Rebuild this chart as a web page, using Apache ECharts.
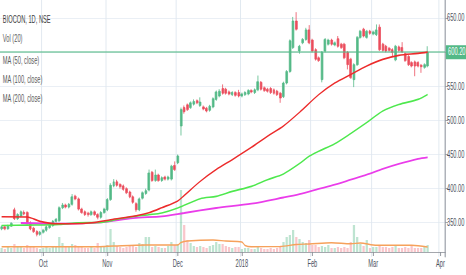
<!DOCTYPE html>
<html><head><meta charset="utf-8">
<script src="https://cdn.jsdelivr.net/npm/echarts@6/dist/echarts.min.js"></script>
<style>
html,body{margin:0;padding:0;background:#fff;overflow:hidden;width:466px;height:275px;}
#wrap{width:466px;height:275px;overflow:hidden;position:relative;}
#c{position:absolute;left:0;top:0;height:275px;transform-origin:0 0;}
</style></head><body><div id="wrap"><div id="c"></div></div>
<script>
// ---- data ----
const startDate = '2017-09-13';
const holidays = ['2017-10-02','2017-10-20','2017-12-25','2018-01-26','2018-02-13','2018-03-02'];
const slotCount = 139;
const monthLabels = {'10':'Oct','11':'Nov','12':'Dec','01':'2018','02':'Feb','03':'Mar','04':'Apr'};
const priceTicks = [350, 400, 450, 500, 550, 600, 650];
const lastPrice = 600.20;

const opens = [341,344,341,345,369,356,360,365,365,350,342,337,333,336,339,343,346,352,353,372,376,373,377,389,385,370,366,364,362,366,362,358,365,369,384,404,410,406,404,400,395,388,378,369,386,393,398,424,412,420,412,417,414,414,434,438,492,519,523,519,524,529,522,520,518,515,520,531,536,547,546,542,538,541,541,536,538,539,544,541,545,556,548,546,547,545,543,540,535,555,572,607,646,602,614,619,633,618,604,592,560,602,612,618,611,620,612,612,600,590,560,582,622,634,622,631,627,626,637,612,609,606,604,589,608,607,598,594,585,586,585,581,578,580];
const closes = [344,341,345,349,356,362,366,363,349,341,337,333,336,339,344,346,352,355,372,376,373,377,388,385,370,365,362,362,366,362,358,365,370,384,405,410,405,403,399,394,388,380,369,385,394,397,423,412,420,412,416,414,417,433,428,448,516,513,516,526,528,526,527,517,514,521,532,542,543,540,540,539,541,537,536,539,541,544,542,545,557,546,544,543,541,540,538,533,555,572,617,646,634,609,619,633,614,602,590,588,600,619,618,612,614,609,607,592,582,563,582,622,631,624,631,628,630,633,604,603,602,603,600,609,603,601,588,582,580,580,580,579,582,600.2];
const lows = [339,339,340,344,354,354,358,361,347,339,335,330,331,334,337,341,344,350,351,370,371,371,375,383,368,363,360,359,360,360,355,356,363,367,382,402,403,400,397,392,386,378,366,367,384,391,396,410,410,410,410,412,412,412,426,436,478,510,514,517,522,524,520,515,512,513,518,529,534,538,538,537,536,535,534,534,536,537,540,539,543,544,542,541,539,538,536,526,533,553,570,605,632,598,612,617,612,600,588,586,556,600,610,610,609,607,605,590,575,561,549,580,620,622,620,626,625,624,602,601,600,601,594,587,601,599,586,580,578,565,578,570,576,578];
const highs = [346,346,347,351,372,364,368,368,367,352,344,339,338,341,346,348,354,357,374,379,378,379,392,391,387,372,368,366,368,368,364,367,372,386,408,414,413,408,406,402,397,390,380,387,396,400,428,426,428,422,418,419,419,435,440,450,519,522,525,528,531,531,534,522,520,523,534,544,546,553,548,544,543,543,545,541,543,546,546,547,566,558,550,548,549,547,545,542,557,574,619,652,659,611,621,636,640,620,606,594,602,621,620,620,616,624,614,614,602,592,584,624,633,636,633,633,632,641,641,614,611,608,606,611,610,615,600,596,587,588,587,583,584,609];
const volumes = [0.8,0.6,1.0,0.8,1.6,1.2,1.0,0.8,1.4,1.2,1.0,0.8,0.6,0.8,1.0,0.8,1.2,1.0,3.0,1.8,1.2,1.0,1.6,1.4,1.2,1.0,0.8,0.8,1.0,0.8,1.8,1.2,1.0,1.4,4.6,2.0,1.2,1.0,0.8,1.0,1.2,1.4,1.0,1.8,1.6,3.0,3.0,1.0,1.2,1.0,0.8,0.8,1.2,2.0,1.4,1.6,12.4,5.4,2.4,1.8,1.2,1.0,1.2,1.0,0.8,1.2,1.4,2.0,1.6,1.6,1.2,1.0,0.8,1.0,1.0,0.6,0.8,0.8,0.6,0.6,1.0,0.8,0.6,0.6,0.8,0.6,0.8,1.2,2.0,3.0,3.4,4.4,3.0,2.6,2.0,1.8,2.4,1.4,1.4,1.0,1.2,1.0,1.4,0.8,0.8,1.0,0.8,1.0,0.8,2.0,5.4,3.0,1.6,1.2,2.4,0.8,1.0,1.0,1.4,1.0,1.0,0.8,1.0,1.4,0.8,0.8,1.0,0.8,1.2,0.8,0.8,0.8,1.0,1.4];
// moving averages at sample bars: [barIndex, value]
const ma50 = [[0,358.8],[8,358.5],[12,352],[17,348.5],[22,348.5],[29,350.4],[34,354.4],[42,360.3],[46,364.7],[50,372],[55,382],[57,390],[62,410.7],[67,428],[72,442.6],[78,460.7],[83,477],[88,492],[93,512],[99,538],[104,555],[109,567.6],[114,580],[119,589.7],[124,595.6],[130,598.5],[133,600.4]];
const ma100 = [[0,346],[8,346.5],[18,347.5],[24,350],[31,350.4],[37,355.9],[43,360.3],[46,361.8],[50,364.3],[55,371.6],[62,385.3],[67,388.7],[72,396],[78,403.4],[83,413.2],[88,421.6],[93,436.8],[96,447.5],[99,454.9],[104,466],[109,481],[114,497],[119,514],[124,523.5],[130,531],[133,538.2]];
const ma200 = [[6,349.6],[18,348.5],[31,350.4],[41,356.9],[50,359.3],[57,364.3],[67,371.6],[78,377.9],[88,387],[93,392],[99,399.6],[104,405.9],[109,413.2],[114,420.6],[119,429],[124,436.3],[130,443.7],[133,446]];
const volMa20 = [[0,1.06],[30,1.06],[35,1.2],[45,1.4],[55,1.4],[56,1.9],[58,2.2],[66,2.4],[70,2.2],[75,2.0],[76,1.3],[78,1.06],[87,1.1],[92,1.5],[96,1.6],[103,1.86],[109,1.66],[112,1.8],[116,1.4],[120,1.34],[128,1.34],[133,1.0]];

// ---- categories (trading days) ----
const dates = [];
(function(){
  let d = new Date(startDate + 'T00:00:00Z');
  while (dates.length < slotCount) {
    const s = d.toISOString().slice(0,10);
    const wd = d.getUTCDay();
    if (wd !== 0 && wd !== 6 && holidays.indexOf(s) < 0) dates.push(s);
    d = new Date(d.getTime() + 86400000);
  }
})();
const isMonthStart = (i) => i > 0 && dates[i].slice(5,7) !== dates[i-1].slice(5,7);

const UP = '#53b987', DOWN = '#eb4d5c';
const candleData = opens.map((o, i) => [o, closes[i], lows[i], highs[i]]);
const volData = volumes.map((v, i) => ({value: v, itemStyle: {color: closes[i] >= opens[i] ? 'rgba(83,185,135,0.38)' : 'rgba(235,77,92,0.32)'}}));

// ---- layout (page is compressed horizontally like the reference) ----
const SX = 0.57;
const el = document.getElementById('c');
const W = 466 / SX;
el.style.width = W + 'px';
el.style.transform = 'scaleX(' + SX + ')';
const rightGap = 21 / SX;
const FONT = 'Liberation Sans';

const chart = echarts.init(el, null, {renderer: 'svg'});
chart.setOption({
  animation: false,
  backgroundColor: '#ffffff',
  grid: [
    {left: 0, right: rightGap, top: 0, bottom: 18.2},
    {left: 0, right: rightGap, top: 182, bottom: 23}
  ],
  xAxis: [
    {type: 'category', gridIndex: 0, data: dates, boundaryGap: true,
     axisLine: {show: false}, axisTick: {show: false}, axisLabel: {show: false},
     splitLine: {show: true, interval: (i) => isMonthStart(i), lineStyle: {color: '#dfe7ef', width: 1.6}}},
    {type: 'category', gridIndex: 1, data: dates, boundaryGap: true,
     axisLine: {show: true, lineStyle: {color: '#8a8e96', width: 1}},
     axisTick: {show: true, alignWithLabel: true, interval: (i) => isMonthStart(i), length: 4, lineStyle: {color: '#8a8e96', width: 1.6}},
     axisLabel: {show: true, interval: (i) => isMonthStart(i), margin: 7, color: '#4c525e', fontSize: 10, fontFamily: FONT,
       formatter: (v) => monthLabels[v.slice(5,7)]},
     splitLine: {show: false}}
  ],
  yAxis: [
    {type: 'value', gridIndex: 0, position: 'right', min: 300, max: 676.86, interval: 50, scale: false,
     axisLine: {show: true, lineStyle: {color: '#8a8e96', width: 1.6}},
     axisTick: {show: true, length: 5, lineStyle: {color: '#8a8e96', width: 1}},
     axisLabel: {show: true, color: '#4c525e', fontSize: 10, fontFamily: FONT, margin: 3,
       showMinLabel: false, showMaxLabel: false,
       formatter: (v) => priceTicks.indexOf(v) >= 0 ? v.toFixed(2) : ''},
     splitLine: {show: true, showMinLine: false, showMaxLine: false, lineStyle: {color: '#e4ebf2', width: 1}}},
    {type: 'value', gridIndex: 1, min: 0, max: 14, show: false, splitLine: {show: false}}
  ],
  series: [
    {type: 'bar', xAxisIndex: 1, yAxisIndex: 1, data: volData, barWidth: '70%', z: 1},
    {type: 'line', xAxisIndex: 1, yAxisIndex: 1, data: volMa20, symbol: 'none', smooth: 0.3, connectNulls: true,
     lineStyle: {color: '#f6a15b', width: 1.4}, z: 2},
    {type: 'candlestick', xAxisIndex: 0, yAxisIndex: 0, data: candleData, barWidth: '62%',
     itemStyle: {color: UP, color0: DOWN, borderColor: UP, borderColor0: DOWN, borderWidth: 1}, z: 3,
     markLine: {silent: true, symbol: ['none', 'none'], animation: false,
       lineStyle: {color: 'rgba(83,185,135,0.55)', width: 2, type: 'solid'},
       label: {show: true, position: 'end', distance: 1, formatter: lastPrice.toFixed(2), color: '#ffffff',
         backgroundColor: UP, fontSize: 10, fontFamily: FONT, padding: [2, 4, 2, 4]},
       data: [{yAxis: lastPrice}]}},
    {type: 'line', xAxisIndex: 0, yAxisIndex: 0, data: ma200, symbol: 'none', smooth: 0.3, lineStyle: {color: '#ea3cea', width: 1.8}, z: 4},
    {type: 'line', xAxisIndex: 0, yAxisIndex: 0, data: ma100, symbol: 'none', smooth: 0.3, lineStyle: {color: '#4ee84e', width: 1.6}, z: 4},
    {type: 'line', xAxisIndex: 0, yAxisIndex: 0, data: ma50, symbol: 'none', smooth: 0.3, lineStyle: {color: '#ec2b2b', width: 1.6}, z: 5}
  ],
  graphic: [
    {type: 'text', left: 5, top: 15, z: 10, style: {text: 'BIOCON, 1D, NSE', fill: '#3c3c3c', font: '10px "Liberation Sans"'}},
    {type: 'text', left: 5, top: 34, z: 10, style: {text: 'Vol (20)', fill: '#5a5a5a', font: '10px "Liberation Sans"'}},
    {type: 'text', left: 5, top: 56, z: 10, style: {text: 'MA (50, close)', fill: '#5a5a5a', font: '10px "Liberation Sans"'}},
    {type: 'text', left: 5, top: 75, z: 10, style: {text: 'MA (100, close)', fill: '#5a5a5a', font: '10px "Liberation Sans"'}},
    {type: 'text', left: 5, top: 94, z: 10, style: {text: 'MA (200, close)', fill: '#5a5a5a', font: '10px "Liberation Sans"'}}
  ]
});
</script></body></html>
